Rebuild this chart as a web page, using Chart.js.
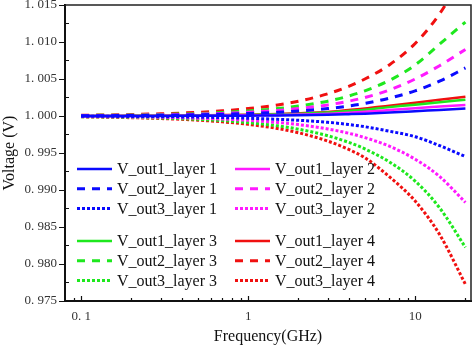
<!DOCTYPE html>
<html>
<head>
<meta charset="utf-8">
<script src="https://cdn.jsdelivr.net/npm/chart.js@4.4.1/dist/chart.umd.min.js"></script>
<style>
  html, body { margin: 0; padding: 0; background: #fff; }
  #wrap { width: 474px; height: 346px; }
</style>
</head>
<body>
<div id="wrap"><canvas id="voltageChart" width="474" height="346"></canvas></div>
<script>
// frequency sweep points (GHz)
const freqGHz = [0.1, 0.15, 0.2, 0.3, 0.5, 0.7, 1, 1.5, 2, 3, 4, 5, 7, 10, 14, 20];

// layer 1
const out1Layer1 = [1.0000, 1.0000, 1.00001, 1.00001, 1.00002, 1.00003, 1.00005, 1.00007, 1.0001, 1.00017, 1.00025, 1.00032, 1.00046, 1.00064, 1.00082, 1.0010];
const out2Layer1 = [1.00003, 1.00005, 1.00007, 1.0001, 1.00017, 1.00024, 1.00034, 1.0005, 1.00068, 1.0010, 1.00135, 1.0017, 1.0024, 1.0034, 1.0047, 1.0065];
const out3Layer1 = [0.99997, 0.99995, 0.99994, 0.99991, 0.99985, 0.99979, 0.9997, 0.99955, 0.99942, 0.99915, 0.99885, 0.99855, 0.99795, 0.9972, 0.9960, 0.99452];
// layer 2
const out1Layer2 = [1.0000, 1.0000, 1.00001, 1.00002, 1.00004, 1.00006, 1.0001, 1.00015, 1.0002, 1.0003, 1.00045, 1.00058, 1.0008, 1.00104, 1.00127, 1.0015];
const out2Layer2 = [1.00005, 1.00008, 1.0001, 1.00015, 1.00025, 1.00035, 1.0005, 1.00075, 1.0010, 1.0015, 1.0020, 1.0025, 1.0035, 1.0050, 1.0068, 1.0090];
const out3Layer2 = [0.99994, 0.99991, 0.99988, 0.99983, 0.99971, 0.99959, 0.99942, 0.99913, 0.99884, 0.99825, 0.99767, 0.99708, 0.99592, 0.99416, 0.99183, 0.98832];
// layer 3
const out1Layer3 = [1.0000, 1.00001, 1.00002, 1.00003, 1.00006, 1.0001, 1.00015, 1.00023, 1.0003, 1.00046, 1.00068, 1.00085, 1.0012, 1.00153, 1.00187, 1.0022];
const out2Layer3 = [1.00007, 1.0001, 1.00013, 1.0002, 1.00033, 1.00047, 1.00068, 1.0010, 1.00135, 1.0020, 1.0027, 1.0034, 1.0048, 1.0069, 1.0097, 1.0127];
const out3Layer3 = [0.99991, 0.99987, 0.99982, 0.99973, 0.99955, 0.99938, 0.99911, 0.99867, 0.99822, 0.99733, 0.99644, 0.99555, 0.9938, 0.9912, 0.9876, 0.98225];
// layer 4
const out1Layer4 = [1.0000, 1.00001, 1.00002, 1.00004, 1.00008, 1.00012, 1.00018, 1.00027, 1.00036, 1.00054, 1.0008, 1.0010, 1.0014, 1.0018, 1.0022, 1.0026];
const out2Layer4 = [1.0001, 1.00015, 1.0002, 1.0003, 1.0005, 1.0007, 1.0010, 1.0015, 1.0020, 1.0030, 1.0040, 1.0050, 1.0069, 1.0098, 1.0138, 1.0196];
const out3Layer4 = [0.99989, 0.99983, 0.99977, 0.99966, 0.99944, 0.99921, 0.99887, 0.99831, 0.99774, 0.99661, 0.99548, 0.99435, 0.9918, 0.9885, 0.9840, 0.97726];

const layerColors = ['#0a0aff', '#ff1aff', '#1ee81e', '#f01010'];
const seriesNames = ['V_out1', 'V_out2', 'V_out3'];

const SERIF = '"Liberation Serif", "Times New Roman", serif';

const lineStyles = [
  { dash: [], width: 2.5 },        // V_out1: solid
  { dash: [8, 7], width: 3 },      // V_out2: dashed
  { dash: [3, 2], width: 3 }       // V_out3: dotted
];

const seriesByLayer = [
  [out1Layer1, out2Layer1, out3Layer1],
  [out1Layer2, out2Layer2, out3Layer2],
  [out1Layer3, out2Layer3, out3Layer3],
  [out1Layer4, out2Layer4, out3Layer4]
];

const datasets = [];
seriesByLayer.forEach((layer, li) => {
  layer.forEach((values, si) => {
    datasets.push({
      label: `${seriesNames[si]}_layer ${li + 1}`,
      data: freqGHz.map((f, i) => ({ x: f, y: values[i] })),
      borderColor: layerColors[li],
      borderWidth: lineStyles[si].width,
      borderDash: lineStyles[si].dash,
      borderCapStyle: 'butt',
      pointRadius: 0,
      fill: false,
      cubicInterpolationMode: 'monotone'
    });
  });
});

// legend in two columns: layers 1/3 on the left, layers 2/4 on the right
const legendBox = {
  id: 'legendBox',
  afterDatasetsDraw(chart) {
    const ctx = chart.ctx;
    const colX = [77, 235];
    const groupY = [169, 241];
    ctx.save();
    chart.data.datasets.forEach((ds, i) => {
      const layer = Math.floor(i / 3);
      const row = i % 3;
      const x = colX[layer % 2];
      const y = groupY[Math.floor(layer / 2)] + row * 19.7;
      ctx.beginPath();
      ctx.setLineDash(ds.borderDash);
      ctx.lineWidth = ds.borderWidth;
      ctx.strokeStyle = ds.borderColor;
      ctx.moveTo(x, y);
      ctx.lineTo(x + 35, y);
      ctx.stroke();
      ctx.setLineDash([]);
      ctx.fillStyle = '#111';
      ctx.font = `16px ${SERIF}`;
      ctx.textBaseline = 'middle';
      ctx.fillText(ds.label, x + 40, y + 1);
    });
    ctx.restore();
  }
};

// frame and tick marks (major out / minor in on y, all in on x)
const frameTicks = {
  id: 'frameTicks',
  afterDraw(chart) {
    const ctx = chart.ctx;
    const { left, right, top, bottom } = chart.chartArea;
    const xs = chart.scales.x;
    const ys = chart.scales.y;
    ctx.save();
    ctx.strokeStyle = '#222';
    ctx.lineWidth = 1.5;
    ctx.beginPath();
    ctx.moveTo(left, top);
    ctx.lineTo(right, top);
    ctx.lineTo(right, bottom);
    ctx.stroke();

    ctx.strokeStyle = '#111';
    ctx.lineWidth = 1.2;
    ctx.beginPath();
    for (let k = 0; k <= 8; k++) {
      const py = Math.round(ys.getPixelForValue(0.975 + k * 0.005)) + 0.5;
      ctx.moveTo(left - 6, py);
      ctx.lineTo(left, py);
      if (k < 8) {
        const my = Math.round(ys.getPixelForValue(0.9775 + k * 0.005)) + 0.5;
        ctx.moveTo(left, my);
        ctx.lineTo(left + 4, my);
      }
    }
    [0.1, 1, 10].forEach(v => {
      const px = Math.round(xs.getPixelForValue(v)) + 0.5;
      ctx.moveTo(px, bottom);
      ctx.lineTo(px, bottom - 5);
    });
    const minor = [0.09];
    [0.1, 1].forEach(d => { for (let m = 2; m <= 9; m++) minor.push(d * m); });
    minor.push(20);
    minor.forEach(v => {
      const px = Math.round(xs.getPixelForValue(v)) + 0.5;
      ctx.moveTo(px, bottom);
      ctx.lineTo(px, bottom - 3);
    });
    ctx.stroke();
    ctx.restore();
  }
};

new Chart(document.getElementById('voltageChart'), {
  type: 'line',
  data: { datasets },
  plugins: [legendBox, frameTicks],
  options: {
    responsive: false,
    animation: false,
    devicePixelRatio: 1,
    layout: { padding: { top: 5, right: 3, left: 0, bottom: 0 } },
    plugins: {
      legend: { display: false },
      tooltip: { enabled: false }
    },
    scales: {
      x: {
        type: 'logarithmic',
        min: 0.08,
        max: 21.6,
        grid: { display: false, drawTicks: false },
        border: { display: true, color: '#111', width: 2 },
        afterBuildTicks(scale) {
          scale.ticks = [0.1, 1, 10].map(v => ({ value: v }));
        },
        afterFit(scale) {
          scale.height = 45;
          scale.paddingLeft = 0;
          scale.paddingRight = 0;
        },
        ticks: {
          color: '#333',
          font: { family: SERIF, size: 13 },
          padding: 8,
          maxRotation: 0,
          autoSkip: false,
          callback: v => (v === 0.1 ? '0. 1' : String(v))
        },
        title: {
          display: true,
          text: 'Frequency(GHz)',
          color: '#111',
          font: { family: SERIF, size: 16 },
          padding: { top: 0, bottom: 0 }
        }
      },
      y: {
        type: 'linear',
        min: 0.975,
        max: 1.015,
        grid: { display: false, drawTicks: false },
        border: { display: true, color: '#111', width: 2 },
        afterFit(scale) {
          scale.width = 65;
          scale.paddingTop = 0;
          scale.paddingBottom = 0;
        },
        ticks: {
          stepSize: 0.005,
          color: '#333',
          font: { family: SERIF, size: 13 },
          padding: 8,
          callback: v => v.toFixed(3).replace('.', '. ')
        },
        title: {
          display: true,
          text: 'Voltage (V)',
          color: '#111',
          font: { family: SERIF, size: 16 },
          padding: { top: 0, bottom: 2 }
        }
      }
    }
  }
});
</script>
</body>
</html>
